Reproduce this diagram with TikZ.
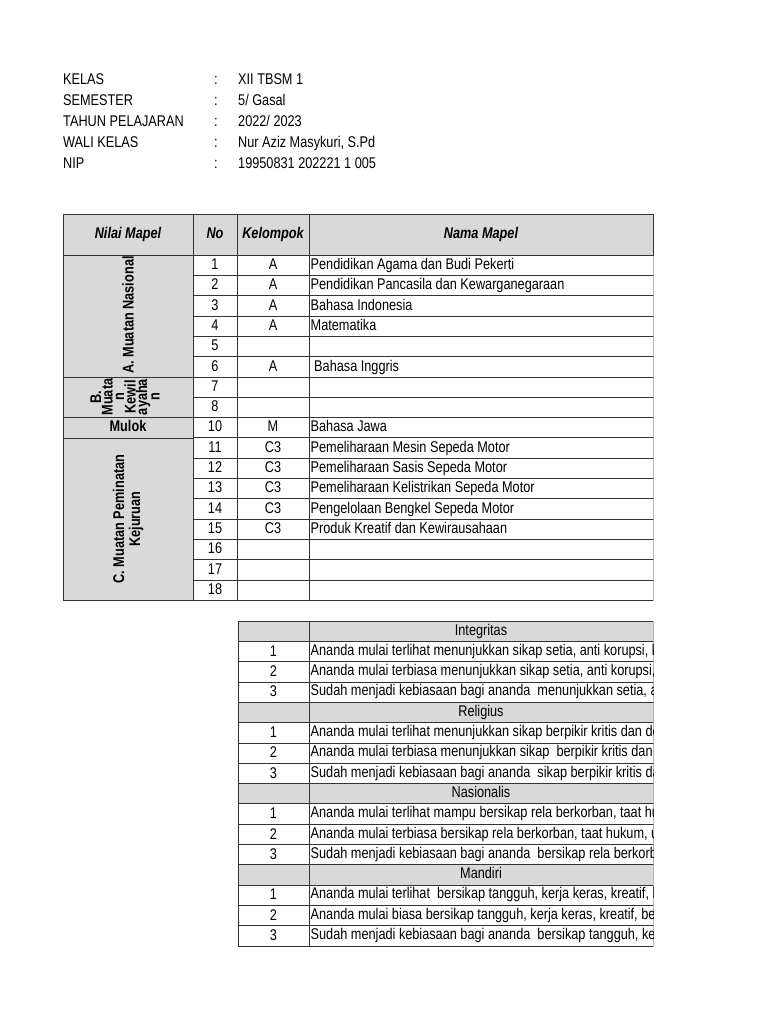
\documentclass[tikz,border=0pt]{standalone}
\usepackage{fontspec}
\setmainfont{Liberation Sans}[FakeStretch=0.82]
\usetikzlibrary{positioning,calc}
\definecolor{sel}{RGB}{217,217,217}
\tikzset{
  cell/.style={draw=black!80, line width=0.6pt},
  gray/.style={cell, fill=sel},
  txt/.style={inner sep=1pt, text height=10pt, text depth=3pt, font=\fontsize{15.5}{16}\selectfont},
  lt/.style={txt, anchor=west},
}
\newcommand \myrow[5]
{
\draw[cell] (193,#1) rectangle (237,#1+20.3);
\draw[cell] (237,#1) rectangle (309,#1+20.3);
\draw[cell] (309,#1) rectangle (653,#1+20.3);
\node[txt] (n#5) at (215,#1+11) {#2};
\node[txt] (k#5) at (273,#1+11) {#3};
\node[lt] (m#5) at (309.5,#1+11) {#4};
}
\begin{document}
\begin{tikzpicture}[x=1pt, y=-1pt]
\useasboundingbox (0,0) rectangle (768,1024);
% identitas
\foreach \lab/\val [count=\i] in {KELAS/XII TBSM 1, SEMESTER/5\slash\ Gasal, TAHUN PELAJARAN/2022\slash\ 2023, WALI KELAS/{Nur Aziz Masykuri, S.Pd}, NIP/19950831 202221 1 005}
{
\node[lt] (l\i) at (62,60.5+21*\i) {\lab};
\node[txt] (c\i) at (216,60.5+21*\i) {:};
\node[lt] (v\i) at (237,60.5+21*\i) {\val};
}
% tabel mapel
\draw[gray] (63,214) rectangle (193,255);
\draw[gray] (193,214) rectangle (237,255);
\draw[gray] (237,214) rectangle (309,255);
\draw[gray] (309,214) rectangle (653,255);
\node[txt,font=\fontsize{15.5}{16}\selectfont\itshape\bfseries] (h1) at (128,235) {Nilai Mapel};
\node[txt,font=\fontsize{15.5}{16}\selectfont\itshape\bfseries] (h2) at (215,235) {No};
\node[txt,font=\fontsize{15.5}{16}\selectfont\itshape\bfseries] (h3) at (273,235) {Kelompok};
\node[txt,font=\fontsize{15.5}{16}\selectfont\itshape\bfseries] (h4) at (481,235) {Nama Mapel};
\draw[gray] (63,255) rectangle (193,377);
\draw[gray] (63,377) rectangle (193,417);
\draw[gray] (63,417) rectangle (193,438);
\draw[gray] (63,438) rectangle (193,600);
\node[font=\fontsize{15.5}{16}\selectfont\bfseries,rotate=90] (gA) at (128,315) {A. Muatan Nasional};
\node[font=\fontsize{15.5}{11.5}\selectfont\bfseries,rotate=90,align=center,inner sep=0pt] (gB) at (125,397) {B.\\Muata\\n\\Kewil\\ayaha\\n};
\node[txt,font=\fontsize{15.5}{16}\selectfont\bfseries] (gM) at (128,428) {Mulok};
\node[font=\fontsize{15.5}{16}\selectfont\bfseries,rotate=90,align=center] (gC) at (128,519) {C. Muatan Peminatan\\Kejuruan};
\begin{scope}
\clip (0,0) rectangle (653.3,1024);
\foreach \no/\kel/\nama [count=\i] in {1/A/Pendidikan Agama dan Budi Pekerti, 2/A/Pendidikan Pancasila dan Kewarganegaraan, 3/A/Bahasa Indonesia, 4/A/Matematika, 5//, 6/A/{\ Bahasa Inggris}, 7//, 8//, 10/M/Bahasa Jawa, 11/C3/Pemeliharaan Mesin Sepeda Motor, 12/C3/Pemeliharaan Sasis Sepeda Motor, 13/C3/Pemeliharaan Kelistrikan Sepeda Motor, 14/C3/Pengelolaan Bengkel Sepeda Motor, 15/C3/Produk Kreatif dan Kewirausahaan, 16//, 17//, 18//}
{
\myrow{234.7+20.3*\i}{\no}{\kel}{\nama}{\i}
}
% tabel sikap
\foreach \sik [count=\j] in {Integritas, Religius, Nasionalis, Mandiri}
{
\pgfmathsetmacro\yy{621+81.2*(\j-1)}
\draw[gray] (238,\yy) rectangle (309,\yy+20.3);
\draw[gray] (309,\yy) rectangle (653,\yy+20.3);
\node[txt] (s\j) at (481,\yy+10.5) {\sik};
}
\foreach \d [count=\i] in {
 {Ananda mulai terlihat menunjukkan sikap setia, anti korupsi, keteladanan},
 {Ananda mulai terbiasa menunjukkan sikap setia, anti korupsi, keteladanan},
 {Sudah menjadi kebiasaan bagi ananda\ \ menunjukkan setia, anti korupsi},
 {Ananda mulai terlihat menunjukkan sikap berpikir kritis dan demokratis},
 {Ananda mulai terbiasa menunjukkan sikap\ \ berpikir kritis dan demokratis},
 {Sudah menjadi kebiasaan bagi ananda\ \ sikap berpikir kritis dan demokratis},
 {Ananda mulai terlihat mampu bersikap rela berkorban, taat hukum, unggul},
 {Ananda mulai terbiasa bersikap rela berkorban, taat hukum, unggul},
 {Sudah menjadi kebiasaan bagi ananda\ \ bersikap rela berkorban, taat hukum},
 {Ananda mulai terlihat\ \ bersikap tangguh, kerja keras, kreatif, berani},
 {Ananda mulai biasa bersikap tangguh, kerja keras, kreatif, berani},
 {Sudah menjadi kebiasaan bagi ananda\ \ bersikap tangguh, kerja keras}}
{
\pgfmathsetmacro\yy{621+20.3*(\i+int((\i-1)/3))}
\pgfmathtruncatemacro\nn{mod(\i-1,3)+1}
\draw[cell] (238,\yy) rectangle (309,\yy+20.3);
\draw[cell] (309,\yy) rectangle (653,\yy+20.3);
\node[txt] (p\i) at (273.5,\yy+11.5) {\nn};
\node[lt] (d\i) at (309.5,\yy+10.5) {\d};
}
\end{scope}
\end{tikzpicture}
\end{document}
